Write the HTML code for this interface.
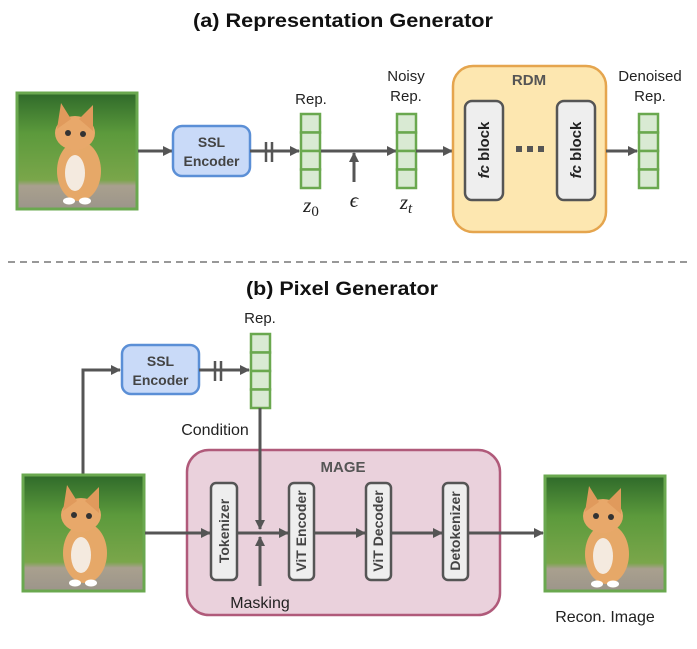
<!DOCTYPE html>
<html><head><meta charset="utf-8"><style>
html,body{margin:0;padding:0;background:#fff;}
svg{display:block;font-family:"Liberation Sans",sans-serif;}
</style></head><body>
<svg width="697" height="649" viewBox="0 0 697 649" xmlns="http://www.w3.org/2000/svg">
<defs>
<marker id="ah" markerWidth="10" markerHeight="10" refX="9" refY="5" orient="auto" markerUnits="userSpaceOnUse">
<path d="M0,0 L10,5 L0,10 z" fill="#555"/></marker>
<linearGradient id="bg" x1="0" y1="0" x2="0" y2="1">
<stop offset="0" stop-color="#2f6a2a"/><stop offset="0.35" stop-color="#5c9a3c"/><stop offset="0.75" stop-color="#7aa64a"/><stop offset="0.8" stop-color="#a9a08e"/><stop offset="1" stop-color="#9c958a"/></linearGradient>
<g id="cat">
<rect x="0" y="0" width="120" height="116" fill="url(#bg)"/>
<ellipse cx="62" cy="78" rx="22" ry="30" fill="#e6a868"/>
<ellipse cx="58" cy="80" rx="10" ry="18" fill="#f4eadf"/>
<ellipse cx="58" cy="40" rx="20" ry="17" fill="#e8a86a"/>
<path d="M40,36 L44,10 L54,26 z" fill="#e09a5c"/>
<path d="M62,26 L76,12 L76,38 z" fill="#e09a5c"/>
<circle cx="51" cy="40" r="3" fill="#333"/><circle cx="66" cy="41" r="3" fill="#333"/>
<ellipse cx="52" cy="108" rx="6" ry="3.5" fill="#fff"/><ellipse cx="68" cy="108" rx="6" ry="3.5" fill="#fff"/>
</g>
</defs>

<text x="343" y="27" text-anchor="middle" font-size="19" font-weight="bold" fill="#111" textLength="300" lengthAdjust="spacingAndGlyphs">(a) Representation Generator</text>

<g transform="translate(17,93)"><use href="#cat"/></g>
<rect x="17" y="93" width="120" height="116" fill="none" stroke="#6aa84f" stroke-width="3"/>
<line x1="138" y1="151" x2="172" y2="151" stroke="#555" stroke-width="3" marker-end="url(#ah)"/>
<rect x="173" y="126" width="77" height="50" rx="9" fill="#c9daf8" stroke="#5b8fd6" stroke-width="2.5"/>
<text x="211.5" y="147" text-anchor="middle" font-size="14" font-weight="bold" fill="#444">SSL</text>
<text x="211.5" y="166" text-anchor="middle" font-size="14" font-weight="bold" fill="#444">Encoder</text>
<line x1="250" y1="151" x2="299" y2="151" stroke="#555" stroke-width="3" marker-end="url(#ah)"/>
<line x1="266" y1="142" x2="266" y2="162" stroke="#555" stroke-width="2.5"/>
<line x1="272" y1="142" x2="272" y2="162" stroke="#555" stroke-width="2.5"/>

<g fill="#d9ead3" stroke="#6aa84f" stroke-width="2.5">
<rect x="301" y="114" width="19" height="18.5"/><rect x="301" y="132.5" width="19" height="18.5"/><rect x="301" y="151" width="19" height="18.5"/><rect x="301" y="169.5" width="19" height="18.5"/>
</g>
<text x="311" y="104" text-anchor="middle" font-size="15" fill="#222">Rep.</text>
<text x="311" y="212" text-anchor="middle" font-size="21" font-style="italic" font-family="Liberation Serif,serif" fill="#222">z<tspan font-size="15" font-style="normal" dy="4">0</tspan></text>
<line x1="321" y1="151" x2="396" y2="151" stroke="#555" stroke-width="3" marker-end="url(#ah)"/>
<line x1="354" y1="182" x2="354" y2="153" stroke="#555" stroke-width="3" marker-end="url(#ah)"/>
<text x="354" y="207" text-anchor="middle" font-size="21" font-style="italic" font-family="Liberation Serif,serif" fill="#222">ϵ</text>

<g fill="#d9ead3" stroke="#6aa84f" stroke-width="2.5">
<rect x="397" y="114" width="19" height="18.5"/><rect x="397" y="132.5" width="19" height="18.5"/><rect x="397" y="151" width="19" height="18.5"/><rect x="397" y="169.5" width="19" height="18.5"/>
</g>
<text x="406" y="81" text-anchor="middle" font-size="15" fill="#222">Noisy</text>
<text x="406" y="101" text-anchor="middle" font-size="15" fill="#222">Rep.</text>
<text x="406" y="209" text-anchor="middle" font-size="21" font-style="italic" font-family="Liberation Serif,serif" fill="#222">z<tspan font-size="15" dy="4">t</tspan></text>
<line x1="416" y1="151" x2="452" y2="151" stroke="#555" stroke-width="3" marker-end="url(#ah)"/>

<rect x="453" y="66" width="153" height="166" rx="20" fill="#fde7b0" stroke="#e5a54e" stroke-width="2.5"/>
<text x="529" y="85" text-anchor="middle" font-size="15" font-weight="bold" fill="#555">RDM</text>
<rect x="465" y="101" width="38" height="99" rx="7" fill="#eeeeee" stroke="#555" stroke-width="2.5"/>
<rect x="557" y="101" width="38" height="99" rx="7" fill="#eeeeee" stroke="#555" stroke-width="2.5"/>
<text transform="translate(489,150) rotate(-90)" text-anchor="middle" font-size="15" font-weight="bold" fill="#222"><tspan font-style="italic">fc</tspan> block</text>
<text transform="translate(581,150) rotate(-90)" text-anchor="middle" font-size="15" font-weight="bold" fill="#222"><tspan font-style="italic">fc</tspan> block</text>
<g fill="#555"><rect x="516" y="146" width="6" height="6"/><rect x="527" y="146" width="6" height="6"/><rect x="538" y="146" width="6" height="6"/></g>
<line x1="606" y1="151" x2="637" y2="151" stroke="#555" stroke-width="3" marker-end="url(#ah)"/>
<g fill="#d9ead3" stroke="#6aa84f" stroke-width="2.5">
<rect x="639" y="114" width="19" height="18.5"/><rect x="639" y="132.5" width="19" height="18.5"/><rect x="639" y="151" width="19" height="18.5"/><rect x="639" y="169.5" width="19" height="18.5"/>
</g>
<text x="650" y="81" text-anchor="middle" font-size="15" fill="#222">Denoised</text>
<text x="650" y="101" text-anchor="middle" font-size="15" fill="#222">Rep.</text>

<line x1="8" y1="262" x2="692" y2="262" stroke="#777" stroke-width="1.5" stroke-dasharray="7,5"/>

<text x="342" y="295" text-anchor="middle" font-size="19" font-weight="bold" fill="#111" textLength="192" lengthAdjust="spacingAndGlyphs">(b) Pixel Generator</text>

<polyline points="83,474 83,370 120,370" fill="none" stroke="#555" stroke-width="3" marker-end="url(#ah)"/>
<rect x="122" y="345" width="77" height="49" rx="9" fill="#c9daf8" stroke="#5b8fd6" stroke-width="2.5"/>
<text x="160.5" y="366" text-anchor="middle" font-size="14" font-weight="bold" fill="#444">SSL</text>
<text x="160.5" y="385" text-anchor="middle" font-size="14" font-weight="bold" fill="#444">Encoder</text>
<line x1="199" y1="370" x2="249" y2="370" stroke="#555" stroke-width="3" marker-end="url(#ah)"/>
<line x1="215" y1="361" x2="215" y2="381" stroke="#555" stroke-width="2.5"/>
<line x1="221" y1="361" x2="221" y2="381" stroke="#555" stroke-width="2.5"/>
<g fill="#d9ead3" stroke="#6aa84f" stroke-width="2.5">
<rect x="251" y="334" width="19" height="18.5"/><rect x="251" y="352.5" width="19" height="18.5"/><rect x="251" y="371" width="19" height="18.5"/><rect x="251" y="389.5" width="19" height="18.5"/>
</g>
<text x="260" y="323" text-anchor="middle" font-size="15" fill="#222">Rep.</text>
<text x="215" y="435" text-anchor="middle" font-size="16" fill="#222">Condition</text>

<rect x="187" y="450" width="313" height="165" rx="22" fill="#ead1dc" stroke="#b05a7a" stroke-width="2.5"/>
<text x="343" y="472" text-anchor="middle" font-size="15" font-weight="bold" fill="#555">MAGE</text>
<line x1="260" y1="408" x2="260" y2="529" stroke="#555" stroke-width="3" marker-end="url(#ah)"/>
<line x1="260" y1="586" x2="260" y2="537" stroke="#555" stroke-width="3" marker-end="url(#ah)"/>
<text x="260" y="608" text-anchor="middle" font-size="16" fill="#222">Masking</text>

<g transform="translate(23,475)"><use href="#cat"/></g>
<rect x="23" y="475" width="121" height="116" fill="none" stroke="#6aa84f" stroke-width="3"/>
<line x1="145" y1="533" x2="210" y2="533" stroke="#555" stroke-width="3" marker-end="url(#ah)"/>
<line x1="237" y1="533" x2="288" y2="533" stroke="#555" stroke-width="3" marker-end="url(#ah)"/>
<line x1="314" y1="533" x2="365" y2="533" stroke="#555" stroke-width="3" marker-end="url(#ah)"/>
<line x1="391" y1="533" x2="442" y2="533" stroke="#555" stroke-width="3" marker-end="url(#ah)"/>
<line x1="468" y1="533" x2="543" y2="533" stroke="#555" stroke-width="3" marker-end="url(#ah)"/>

<g fill="#eeeeee" stroke="#555" stroke-width="2.5">
<rect x="211" y="483" width="26" height="97" rx="5"/>
<rect x="289" y="483" width="25" height="97" rx="5"/>
<rect x="366" y="483" width="25" height="97" rx="5"/>
<rect x="443" y="483" width="25" height="97" rx="5"/>
</g>
<g font-size="14" font-weight="bold" fill="#444" text-anchor="middle">
<text transform="translate(229,531) rotate(-90)">Tokenizer</text>
<text transform="translate(306,531) rotate(-90)">ViT Encoder</text>
<text transform="translate(383,531) rotate(-90)">ViT Decoder</text>
<text transform="translate(460,531) rotate(-90)">Detokenizer</text>
</g>

<g transform="translate(545,476)"><use href="#cat"/></g>
<rect x="545" y="476" width="120" height="115" fill="none" stroke="#6aa84f" stroke-width="3"/>
<text x="605" y="622" text-anchor="middle" font-size="16" fill="#222">Recon. Image</text>
</svg>
</body></html>
